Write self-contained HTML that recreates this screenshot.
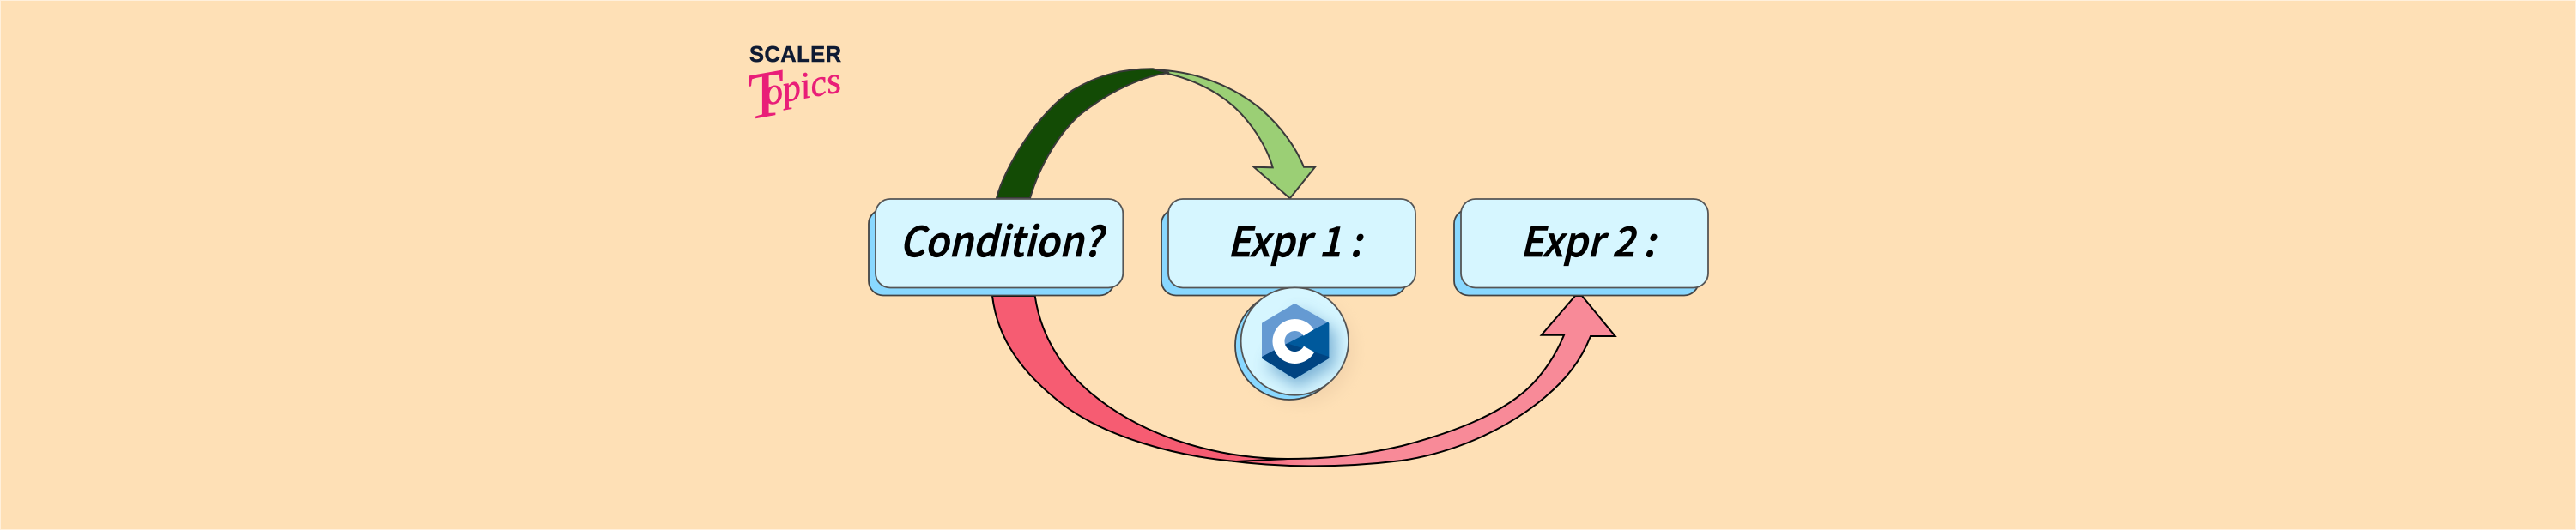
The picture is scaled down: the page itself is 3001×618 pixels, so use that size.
<!DOCTYPE html>
<html><head><meta charset="utf-8"><style>
html,body{margin:0;padding:0;background:#fee0b6}
svg{display:block}
.n{font-family:"Noto Sans CJK JP","Liberation Sans",sans-serif;font-style:italic;font-weight:500;font-size:48px;fill:#000;stroke:#000;stroke-width:.8}
</style></head><body>
<svg width="3001" height="618" viewBox="0 0 3001 618" xmlns="http://www.w3.org/2000/svg">
<defs>
<linearGradient id="r" gradientUnits="userSpaceOnUse" x1="1440" y1="0" x2="1530" y2="0"><stop offset="0" stop-color="#f65c72"/><stop offset="1" stop-color="#f88a98"/></linearGradient>
<filter id="b" x="-50%" y="-50%" width="200%" height="200%"><feGaussianBlur stdDeviation="9"/></filter>
<clipPath id="cc"><circle cx="1508.3" cy="398" r="62"/></clipPath>
</defs>
<rect width="3001" height="618" fill="#fee0b6"/>
<rect x="0.5" y="0.5" width="3000" height="617" fill="none" stroke="#fff0dc" stroke-width="1"/>

<!-- green arrow -->
<path d="M1336.7,81.3 C1395,81 1440,103 1470,128 C1490,146 1508,168 1519,194.7 L1532,194.7 L1502.7,231.3 L1460.7,194.7 L1482.7,195.3 C1475,168 1455,140 1436.7,123.7 C1410,100 1375,87 1336.7,81.3 Z" fill="#9bcf75" stroke="#3a3a3a" stroke-width="2"/>
<path d="M1161,231 C1170,195 1210,130 1250,105 C1280,87 1310,80 1343,80.3 L1362,85 C1335,88 1295,104 1256.7,135 C1235,155 1212,190 1200,231 Z" fill="#134b05" stroke="#3a3a3a" stroke-width="2"/>

<!-- red arrow -->
<path d="M1430,537 C1490,545 1560,546 1633,537 C1700,527 1760,497 1800,463 C1825,442 1842,420 1853,392 L1881.7,392 L1843,345 L1835,345 L1795.7,390.7 L1822,390.7 C1812,415 1797,437 1780,453 C1745,485 1690,505 1633,520 C1590,530 1550,535 1500,535 Z" fill="url(#r)" stroke="#000" stroke-width="2"/>
<path d="M1156,345 C1162,395 1190,435 1240,473 C1290,510 1370,532 1440,538 L1500,535 C1430,535 1340,515 1273,460 C1240,433 1213,395 1205.7,345 Z" fill="url(#r)" stroke="#000" stroke-width="2"/>

<!-- boxes -->
<rect x="1012" y="244" width="286" height="100.5" rx="17" fill="#89d8ff" stroke="#444" stroke-width="1.8"/>
<rect x="1020" y="232" width="288.3" height="103.5" rx="17" fill="#d6f6ff" stroke="#555" stroke-width="1.8"/>
<rect x="1353" y="244" width="285" height="100.5" rx="17" fill="#89d8ff" stroke="#444" stroke-width="1.8"/>
<rect x="1361" y="232" width="288" height="103.5" rx="17" fill="#d6f6ff" stroke="#555" stroke-width="1.8"/>
<rect x="1694" y="244" width="285" height="100.5" rx="17" fill="#89d8ff" stroke="#444" stroke-width="1.8"/>
<rect x="1702" y="232" width="288" height="103.5" rx="17" fill="#d6f6ff" stroke="#555" stroke-width="1.8"/>
<text class="n" x="1048" y="299" textLength="236" lengthAdjust="spacingAndGlyphs">Condition?</text>
<text class="n" x="1430" y="299" textLength="156" lengthAdjust="spacingAndGlyphs">Expr 1 :</text>
<text class="n" x="1771" y="299" textLength="157" lengthAdjust="spacingAndGlyphs">Expr 2 :</text>

<!-- C badge -->
<circle cx="1515" cy="408" r="62" fill="#d9b894" opacity=".3" filter="url(#b)"/>
<circle cx="1502" cy="403" r="63" fill="#89d8ff" stroke="#444" stroke-width="1.8"/>
<circle cx="1508.3" cy="398" r="62.7" fill="#d6f6ff" stroke="#555" stroke-width="1.8"/>
<g clip-path="url(#cc)"><path d="M1512,362 L1556,386 L1556,426 L1512,452 L1476,428 Z" fill="#5f9cc8" opacity=".75" filter="url(#b)"/></g>
<path d="M1508.3,355.5 L1546.8,377.5 L1546.8,417 L1508.3,440.2 L1471.5,417 L1471.5,377.5 Z" fill="#659ad2" stroke="#659ad2" stroke-width="3" stroke-linejoin="round"/>
<path d="M1471.5,417 L1546.8,377.5 L1546.8,417 L1508.3,440.2 Z" fill="#00599c" stroke="#00599c" stroke-width="3" stroke-linejoin="round"/>
<path d="M1471.5,417 L1500,402 L1546.8,417 L1508.3,440.2 Z" fill="#004482" stroke="#004482" stroke-width="3" stroke-linejoin="round"/>
<path d="M1524.6,387.9 A19,19 0 1 0 1525.1,407.2" fill="none" stroke="#fff" stroke-width="14"/>

<!-- logo -->
<text x="873" y="72" font-family="'Liberation Sans',sans-serif" font-size="25.5" font-weight="700" fill="#0f1b33" stroke="#0f1b33" stroke-width=".5" textLength="107" lengthAdjust="spacing">SCALER</text>
<text transform="translate(874,139) rotate(-10)" font-family="'Liberation Serif',serif" font-style="italic" fill="#e91e78" stroke="#e91e78" stroke-width=".6"><tspan font-size="76">T</tspan><tspan font-size="44" dx="-21" dy="-13" textLength="90" lengthAdjust="spacingAndGlyphs">opics</tspan></text>
</svg>
</body></html>
